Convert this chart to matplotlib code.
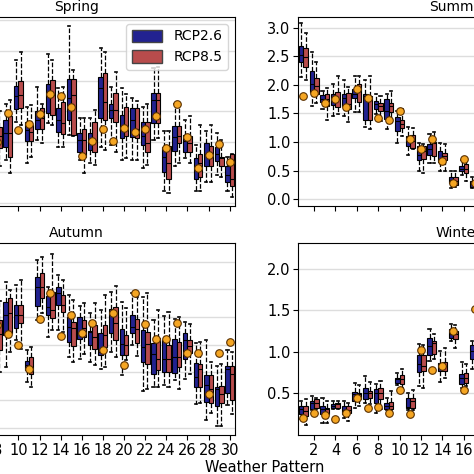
import numpy as np
import matplotlib
matplotlib.use("Agg")
import matplotlib.pyplot as plt
from matplotlib.patches import Patch

patterns = np.arange(1, 31)

# each row: [whisker low, q1, median, q3, whisker high] per weather pattern
spring_26 = [[1.5, 1.7, 1.85, 2.0, 2.3], [1.4, 1.65, 1.8, 1.95, 2.3], [1.5, 1.75, 1.9, 2.1, 2.5],
             [1.4, 1.6, 1.75, 1.9, 2.2], [1.5, 1.7, 1.9, 2.1, 2.5], [1.3, 1.55, 1.7, 1.85, 2.1],
             [1.4, 1.6, 1.8, 2.0, 2.4], [1.2, 1.45, 1.6, 1.75, 2.0],
             [1.20, 1.42, 1.64, 1.86, 2.13], [1.83, 2.04, 2.25, 2.42, 2.84], [1.15, 1.52, 1.70, 1.83, 2.08],
             [1.53, 1.71, 1.86, 2.01, 2.41], [1.81, 1.97, 2.28, 2.45, 2.95], [1.42, 1.67, 1.86, 2.05, 2.38],
             [1.61, 1.86, 2.22, 2.54, 3.40], [1.20, 1.34, 1.53, 1.64, 1.90], [1.15, 1.37, 1.51, 1.64, 1.89],
             [1.42, 1.89, 2.38, 2.57, 3.04], [1.45, 1.89, 2.02, 2.13, 2.41], [1.20, 1.56, 1.72, 1.94, 2.39],
             [1.20, 1.58, 1.86, 2.05, 2.22], [1.07, 1.45, 1.59, 1.83, 2.08], [1.53, 1.81, 2.19, 2.30, 2.71],
             [0.69, 1.01, 1.26, 1.42, 1.68], [1.10, 1.35, 1.58, 1.76, 2.13], [1.23, 1.34, 1.51, 1.61, 1.86],
             [0.69, 0.89, 1.07, 1.23, 1.45], [0.85, 1.10, 1.31, 1.48, 1.68], [0.96, 1.18, 1.31, 1.42, 1.64],
             [0.69, 0.85, 0.96, 1.10, 1.26]]
spring_85 = [[1.4, 1.65, 1.8, 2.0, 2.4], [1.4, 1.6, 1.75, 1.95, 2.3], [1.5, 1.7, 1.9, 2.15, 2.6],
             [1.3, 1.55, 1.7, 1.9, 2.2], [1.5, 1.7, 1.85, 2.1, 2.5], [1.2, 1.5, 1.65, 1.85, 2.1],
             [1.4, 1.6, 1.8, 2.05, 2.4], [1.1, 1.4, 1.6, 1.75, 2.0],
             [0.99, 1.26, 1.64, 1.92, 2.19], [1.78, 2.05, 2.27, 2.50, 2.97], [1.26, 1.52, 1.67, 1.78, 2.11],
             [1.48, 1.71, 1.89, 2.05, 2.13], [1.78, 1.94, 2.27, 2.52, 2.84], [1.42, 1.63, 1.81, 2.16, 2.41],
             [1.60, 1.61, 2.27, 2.54, 2.68], [0.99, 1.26, 1.53, 1.72, 1.90], [1.12, 1.34, 1.53, 1.83, 2.02],
             [1.37, 1.86, 2.16, 2.63, 2.98], [1.33, 1.83, 2.02, 2.30, 2.65], [1.23, 1.59, 1.75, 2.08, 2.28],
             [1.20, 1.56, 1.72, 2.05, 2.17], [1.12, 1.33, 1.49, 1.83, 2.13], [1.56, 1.81, 2.19, 2.30, 2.73],
             [0.66, 0.90, 1.15, 1.43, 1.68], [1.15, 1.48, 1.59, 1.76, 2.09], [1.15, 1.34, 1.49, 1.60, 1.92],
             [0.69, 0.93, 1.15, 1.31, 1.78], [0.85, 1.10, 1.26, 1.43, 1.78], [0.93, 1.10, 1.23, 1.26, 1.53],
             [0.60, 0.77, 0.90, 1.31, 1.31]]
spring_obs = [1.9, 1.7, 2.0, 1.6, 1.8, 1.5, 1.9, 1.5,
              1.97, 1.69, 1.80, 1.96, 2.28, 2.25, 2.07, 1.27, 1.51, 1.72, 1.51, 1.73,
              1.66, 1.71, 1.92, 1.40, 2.12, 1.58, 1.07, 1.29, 1.46, 1.17]

summer_26 = [[2.14, 2.40, 2.52, 2.68, 3.08], [1.63, 1.88, 2.02, 2.24, 2.58], [1.58, 1.70, 1.76, 1.82, 1.90],
             [1.46, 1.65, 1.76, 1.85, 2.02], [1.46, 1.64, 1.78, 1.85, 2.09], [1.53, 1.78, 1.84, 1.93, 2.16],
             [1.27, 1.38, 1.81, 1.85, 2.08], [1.49, 1.58, 1.66, 1.72, 1.85], [1.22, 1.41, 1.55, 1.75, 1.84],
             [0.99, 1.19, 1.37, 1.43, 1.55], [0.78, 0.93, 1.02, 1.11, 1.27], [0.49, 0.69, 0.78, 0.93, 0.99],
             [0.64, 0.78, 0.87, 0.97, 1.14], [0.49, 0.65, 0.69, 0.84, 0.98], [0.19, 0.28, 0.34, 0.39, 0.49],
             [0.43, 0.49, 0.53, 0.58, 0.68], [0.20, 0.22, 0.26, 0.32, 0.38], [0.30, 0.38, 0.45, 0.52, 0.65],
             [0.25, 0.32, 0.38, 0.45, 0.55], [0.20, 0.26, 0.30, 0.36, 0.45], [0.15, 0.22, 0.27, 0.33, 0.42],
             [0.25, 0.33, 0.40, 0.48, 0.60], [0.18, 0.24, 0.29, 0.35, 0.44], [0.12, 0.18, 0.22, 0.27, 0.35],
             [0.20, 0.27, 0.32, 0.38, 0.48], [0.15, 0.20, 0.25, 0.30, 0.38], [0.10, 0.15, 0.19, 0.24, 0.30],
             [0.12, 0.17, 0.21, 0.26, 0.33], [0.10, 0.14, 0.18, 0.22, 0.28], [0.08, 0.12, 0.16, 0.20, 0.26]]
summer_85 = [[2.08, 2.31, 2.49, 2.64, 2.91], [1.69, 1.84, 1.98, 2.12, 2.41], [1.38, 1.64, 1.76, 1.85, 1.94],
             [1.49, 1.62, 1.75, 1.87, 2.16], [1.35, 1.58, 1.67, 1.86, 1.96], [1.53, 1.70, 1.93, 2.02, 2.16],
             [1.22, 1.39, 1.75, 1.81, 2.16], [1.37, 1.55, 1.64, 1.69, 1.81], [1.35, 1.52, 1.64, 1.69, 1.90],
             [1.10, 1.25, 1.31, 1.38, 1.58], [0.87, 0.90, 1.02, 1.12, 1.24], [0.46, 0.71, 0.84, 0.93, 0.97],
             [0.64, 0.75, 0.99, 1.00, 1.18], [0.49, 0.68, 0.75, 0.81, 0.96], [0.22, 0.25, 0.32, 0.39, 0.49],
             [0.31, 0.46, 0.52, 0.62, 0.66], [0.18, 0.22, 0.27, 0.33, 0.40], [0.28, 0.37, 0.45, 0.53, 0.66],
             [0.24, 0.31, 0.38, 0.46, 0.57], [0.19, 0.25, 0.31, 0.37, 0.46], [0.14, 0.21, 0.27, 0.34, 0.43],
             [0.24, 0.33, 0.41, 0.49, 0.62], [0.17, 0.24, 0.30, 0.36, 0.45], [0.11, 0.17, 0.22, 0.28, 0.36],
             [0.19, 0.27, 0.33, 0.39, 0.50], [0.14, 0.20, 0.25, 0.31, 0.40], [0.09, 0.15, 0.20, 0.25, 0.32],
             [0.11, 0.17, 0.22, 0.27, 0.34], [0.09, 0.14, 0.18, 0.23, 0.29], [0.07, 0.12, 0.16, 0.21, 0.27]]
summer_obs = [1.80, 1.86, 1.68, 1.76, 1.61, 1.93, 1.77, 1.42, 1.39, 1.54, 1.05, 0.88, 1.05, 0.66, 0.29,
              0.70, 0.29, 0.50, 0.35, 0.28, 0.22, 0.45, 0.30, 0.18, 0.35, 0.22, 0.15, 0.20, 0.14, 0.12]

autumn_26 = [[1.8, 2.1, 2.3, 2.5, 2.9], [1.7, 2.0, 2.2, 2.45, 2.8], [1.9, 2.2, 2.4, 2.6, 3.0],
             [1.6, 1.9, 2.1, 2.3, 2.7], [1.8, 2.1, 2.35, 2.55, 2.9], [1.5, 1.8, 2.0, 2.2, 2.6],
             [1.7, 2.0, 2.2, 2.4, 2.8], [1.6, 1.95, 2.25, 2.4, 2.7],
             [1.60, 2.17, 2.54, 2.78, 3.14], [2.08, 2.30, 2.54, 2.72, 3.08], [1.33, 1.54, 1.63, 1.71, 1.90],
             [2.45, 2.70, 3.05, 3.23, 3.54], [2.14, 2.54, 2.69, 2.88, 3.05], [2.27, 2.72, 2.93, 3.05, 3.26],
             [1.78, 2.05, 2.33, 2.51, 2.90], [1.75, 2.10, 2.21, 2.51, 2.70], [1.69, 2.00, 2.24, 2.25, 2.57],
             [1.57, 1.81, 1.87, 2.22, 2.63], [1.87, 2.21, 2.57, 2.64, 2.96], [1.45, 1.81, 2.01, 2.28, 2.78],
             [1.99, 2.21, 2.33, 2.54, 2.93], [1.17, 1.69, 1.96, 2.27, 2.87], [1.24, 1.48, 1.84, 2.04, 2.45],
             [1.27, 1.51, 1.75, 2.08, 2.52], [1.36, 1.49, 1.78, 2.11, 2.46], [1.39, 1.75, 2.08, 2.21, 2.42],
             [0.93, 1.24, 1.42, 1.68, 2.04], [0.64, 0.97, 1.27, 1.45, 2.08], [0.53, 0.89, 1.21, 1.24, 1.61],
             [0.91, 1.13, 1.57, 1.61, 1.90]]
autumn_85 = [[1.7, 2.05, 2.3, 2.55, 3.0], [1.6, 1.95, 2.2, 2.5, 2.9], [1.8, 2.15, 2.4, 2.65, 3.1],
             [1.5, 1.85, 2.1, 2.35, 2.8], [1.7, 2.05, 2.3, 2.6, 3.0], [1.4, 1.75, 2.0, 2.25, 2.7],
             [1.6, 1.95, 2.2, 2.45, 2.9], [1.5, 1.9, 2.2, 2.45, 2.8],
             [1.87, 2.21, 2.57, 2.84, 2.99], [1.93, 2.39, 2.54, 2.72, 3.17], [1.24, 1.48, 1.60, 1.78, 1.96],
             [2.57, 2.84, 3.05, 3.29, 3.59], [2.27, 2.48, 2.63, 2.96, 3.65], [2.24, 2.60, 2.72, 2.90, 3.18],
             [1.69, 1.98, 2.30, 2.42, 2.81], [1.84, 2.14, 2.30, 2.45, 2.76], [1.63, 1.92, 2.14, 2.36, 2.76],
             [1.60, 1.96, 2.17, 2.36, 2.90], [1.78, 2.08, 2.39, 2.68, 3.06], [1.72, 1.81, 1.99, 2.17, 2.66],
             [1.80, 2.03, 2.28, 2.46, 2.87], [1.21, 1.66, 2.02, 2.24, 2.94], [1.24, 1.55, 1.74, 2.13, 2.63],
             [1.24, 1.51, 1.74, 1.99, 2.60], [1.21, 1.59, 1.78, 2.05, 2.51], [1.48, 1.86, 1.98, 2.08, 2.37],
             [0.95, 1.23, 1.57, 1.65, 2.05], [0.76, 0.94, 1.21, 1.45, 1.69], [0.53, 0.94, 1.12, 1.25, 1.66],
             [0.75, 1.01, 1.48, 1.61, 1.87]]
autumn_obs = [2.2, 2.0, 2.4, 1.9, 2.3, 1.8, 2.1, 2.35,
              2.19, 1.99, 1.57, 2.46, 2.94, 2.16, 2.54, 2.21, 2.39, 1.90, 2.57, 1.64,
              2.93, 2.37, 2.11, 2.10, 2.40, 1.86, 1.86, 1.12, 1.86, 2.05]

winter_26 = [[0.19, 0.25, 0.31, 0.35, 0.41], [0.30, 0.31, 0.39, 0.41, 0.47], [0.14, 0.25, 0.31, 0.35, 0.45],
             [0.31, 0.33, 0.35, 0.37, 0.41], [0.21, 0.25, 0.30, 0.35, 0.41], [0.32, 0.41, 0.49, 0.52, 0.63],
             [0.39, 0.43, 0.51, 0.57, 0.71], [0.27, 0.39, 0.51, 0.55, 0.61], [0.30, 0.31, 0.35, 0.39, 0.45],
             [0.60, 0.63, 0.67, 0.69, 0.74], [0.30, 0.32, 0.34, 0.45, 0.51], [0.59, 0.76, 0.85, 0.96, 1.09],
             [0.89, 0.96, 1.07, 1.17, 1.28], [0.64, 0.77, 0.83, 0.87, 1.01], [1.13, 1.17, 1.21, 1.27, 1.34],
             [0.57, 0.61, 0.69, 0.73, 0.88], [0.80, 0.91, 1.01, 1.08, 1.13], [0.9, 1.0, 1.1, 1.2, 1.35],
             [0.7, 0.8, 0.9, 1.0, 1.15], [1.0, 1.1, 1.2, 1.3, 1.45], [0.8, 0.9, 1.0, 1.1, 1.25],
             [1.1, 1.2, 1.3, 1.4, 1.55], [0.9, 1.0, 1.1, 1.2, 1.35], [1.2, 1.3, 1.4, 1.5, 1.65],
             [1.0, 1.1, 1.2, 1.3, 1.45], [1.3, 1.4, 1.5, 1.6, 1.75], [1.1, 1.2, 1.3, 1.4, 1.55],
             [1.4, 1.5, 1.6, 1.7, 1.85], [1.2, 1.3, 1.4, 1.5, 1.65], [1.5, 1.6, 1.7, 1.8, 1.95]]
winter_85 = [[0.12, 0.23, 0.29, 0.35, 0.43], [0.31, 0.33, 0.39, 0.43, 0.45], [0.15, 0.25, 0.31, 0.33, 0.41],
             [0.31, 0.33, 0.37, 0.39, 0.41], [0.17, 0.26, 0.30, 0.35, 0.39], [0.35, 0.43, 0.49, 0.51, 0.60],
             [0.37, 0.45, 0.51, 0.53, 0.64], [0.31, 0.43, 0.51, 0.57, 0.65], [0.30, 0.31, 0.35, 0.40, 0.53],
             [0.57, 0.61, 0.67, 0.72, 0.80], [0.30, 0.32, 0.41, 0.45, 0.54], [0.57, 0.77, 0.83, 0.96, 1.08],
             [0.91, 0.97, 1.11, 1.13, 1.21], [0.68, 0.77, 0.83, 0.88, 1.05], [1.05, 1.15, 1.21, 1.25, 1.32],
             [0.59, 0.62, 0.68, 0.75, 0.85], [0.78, 0.90, 1.00, 1.07, 1.15], [0.9, 1.0, 1.1, 1.2, 1.35],
             [0.7, 0.8, 0.9, 1.0, 1.15], [1.0, 1.1, 1.2, 1.3, 1.45], [0.8, 0.9, 1.0, 1.1, 1.25],
             [1.1, 1.2, 1.3, 1.4, 1.55], [0.9, 1.0, 1.1, 1.2, 1.35], [1.2, 1.3, 1.4, 1.5, 1.65],
             [1.0, 1.1, 1.2, 1.3, 1.45], [1.3, 1.4, 1.5, 1.6, 1.75], [1.1, 1.2, 1.3, 1.4, 1.55],
             [1.4, 1.5, 1.6, 1.7, 1.85], [1.2, 1.3, 1.4, 1.5, 1.65], [1.5, 1.6, 1.7, 1.8, 1.95]]
winter_obs = [0.21, 0.26, 0.24, 0.19, 0.26, 0.45, 0.32, 0.34, 0.27, 0.54, 0.25, 1.02, 0.78, 0.83, 1.25,
              0.54, 1.52, 1.0, 0.85, 1.15, 0.95, 1.25, 1.0, 1.35, 1.1, 1.45, 1.2, 1.55, 1.3, 1.65]

seasons = [("Spring", spring_26, spring_85, spring_obs),
           ("Summer", summer_26, summer_85, summer_obs),
           ("Autumn", autumn_26, autumn_85, autumn_obs),
           ("Winter", winter_26, winter_85, winter_obs)]

C26 = "#222290"
C85 = "#b84c4c"
W = 474.0

fig = plt.figure(figsize=(4.74, 4.74), dpi=100)
# the picture is a crop of a bigger figure: axes run past the canvas edges
rects = [(-82, 17, 317, 189), (298, 17, 321, 189), (-82, 243, 317, 192), (298, 243, 321, 192)]
ylims = [(0.45, 3.55), (-0.12, 3.19), (0.37, 3.84), (0.0, 2.31)]
yticks = [np.arange(0.5, 3.51, 0.5), np.arange(0, 3.01, 0.5), np.arange(0.5, 3.51, 0.5), [0.5, 1.0, 1.5, 2.0]]


def stats(rows):
    return [dict(whislo=r[0], q1=r[1], med=r[2], q3=r[3], whishi=r[4]) for r in rows]


for i, (name, s26, s85, obs) in enumerate(seasons):
    x0, y0, w, h = rects[i]
    ax = fig.add_axes([x0 / W, 1 - (y0 + h) / W, w / W, h / W])
    for data, col, off in [(s26, C26, -0.21), (s85, C85, 0.21)]:
        ax.bxp(stats(data), positions=patterns + off, widths=0.42, patch_artist=True,
               showfliers=False, manage_ticks=False,
               boxprops=dict(facecolor=col, edgecolor="black", linewidth=0.8),
               medianprops=dict(color="black", linewidth=0.8),
               whiskerprops=dict(color="black", linestyle="--", linewidth=0.9),
               capprops=dict(color="black", linewidth=1.2), capwidths=0.2)
    ax.scatter(patterns, obs, s=30, color="#f5a623", edgecolor="#5a3000", linewidth=0.8, zorder=5)
    ax.set_xlim(0.5, 30.5)
    ax.set_ylim(*ylims[i])
    ax.set_yticks(yticks[i])
    ax.yaxis.grid(True, color="#dddddd", linewidth=1)
    ax.set_axisbelow(True)
    ax.set_xticks(np.arange(2, 31, 2))
    ax.tick_params(labelsize=10.5, pad=2)
    if i < 2:
        ax.tick_params(labelbottom=False)
    ax.set_title(name, fontsize=10, pad=4)
    if i == 0:
        ax.legend(handles=[Patch(facecolor=C26, edgecolor="#444444", label="RCP2.6"),
                           Patch(facecolor=C85, edgecolor="#444444", label="RCP8.5")],
                  loc="upper right", fontsize=10, handlelength=2.2, handleheight=1.0)

fig.text(205 / W, 1 - 467 / W, "Weather Pattern", ha="left", va="center", fontsize=10.5)
fig.savefig("out.png", dpi=100)
